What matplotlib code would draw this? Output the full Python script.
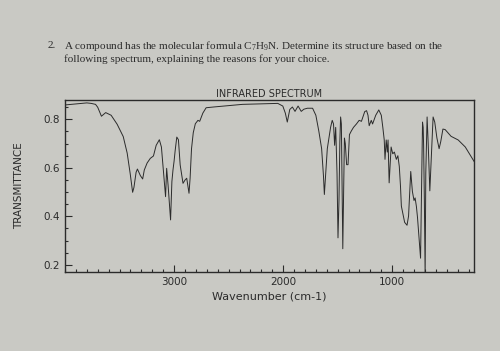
import matplotlib
matplotlib.use("Agg")
import matplotlib.pyplot as plt
from matplotlib.ticker import MultipleLocator

# IR spectrum (wavenumber in cm-1, transmittance)
wavenumber = [
    3990, 3940, 3880, 3800, 3760, 3720, 3700, 3666, 3627, 3577,
    3522, 3466, 3430, 3402, 3380, 3368, 3348, 3336, 3309, 3288,
    3273, 3247, 3218, 3189, 3164, 3135, 3116, 3095, 3078, 3068,
    3055, 3032, 3020, 3010, 3000, 2990, 2975, 2960, 2944, 2918,
    2899, 2884, 2863, 2853, 2840, 2824, 2805, 2781, 2765, 2736,
    2706, 2641, 2500, 2373, 2200, 2049, 2003, 1980, 1962, 1939,
    1915, 1891, 1863, 1834, 1810, 1778, 1730, 1700, 1673, 1647,
    1630, 1622, 1595, 1565, 1550, 1538, 1528, 1518, 1506, 1497,
    1488, 1480, 1473, 1466, 1460, 1453, 1446, 1438, 1430, 1418,
    1405, 1392, 1375, 1355, 1328, 1303, 1282, 1252, 1235, 1222,
    1211, 1192, 1180, 1151, 1123, 1100, 1086, 1073, 1066, 1055,
    1045, 1038, 1028, 1010, 995, 980, 962, 948, 935, 924,
    916, 901, 886, 864, 850, 830, 815, 800, 790, 778,
    768, 755, 740, 722, 716, 712, 705, 698, 692, 680,
    670, 655, 625, 610, 590, 570, 555, 535, 515, 460,
    395, 330, 270, 250,
]
transmittance = [
    0.860, 0.862, 0.864, 0.868, 0.866, 0.862, 0.850, 0.813, 0.828, 0.817,
    0.780, 0.729, 0.661, 0.575, 0.499, 0.519, 0.582, 0.595, 0.568, 0.554,
    0.591, 0.620, 0.639, 0.649, 0.693, 0.716, 0.686, 0.570, 0.481, 0.598,
    0.529, 0.385, 0.543, 0.591, 0.627, 0.671, 0.727, 0.716, 0.612, 0.536,
    0.550, 0.557, 0.495, 0.557, 0.679, 0.745, 0.782, 0.796, 0.792, 0.826,
    0.848, 0.851, 0.857, 0.862, 0.864, 0.866, 0.855, 0.826, 0.789, 0.841,
    0.851, 0.833, 0.855, 0.833, 0.842, 0.846, 0.846, 0.817, 0.752, 0.679,
    0.565, 0.490, 0.679, 0.767, 0.796, 0.781, 0.693, 0.767, 0.578, 0.311,
    0.465, 0.708, 0.810, 0.781, 0.538, 0.266, 0.476, 0.723, 0.700, 0.613,
    0.613, 0.737, 0.752, 0.767, 0.781, 0.796, 0.792, 0.832, 0.836, 0.817,
    0.774, 0.796, 0.781, 0.817, 0.839, 0.817, 0.767, 0.715, 0.635, 0.715,
    0.665, 0.715, 0.538, 0.686, 0.658, 0.665, 0.635, 0.650, 0.606, 0.524,
    0.442, 0.408, 0.375, 0.363, 0.401, 0.585, 0.503, 0.465, 0.476, 0.440,
    0.395, 0.318, 0.227, 0.789, 0.767, 0.693, 0.465, 0.150, 0.578, 0.810,
    0.700, 0.505, 0.810, 0.789, 0.723, 0.679, 0.708, 0.760, 0.758, 0.730,
    0.715, 0.686, 0.642, 0.627,
]

x_ticks = [3000, 2000, 1000]
y_ticks = [0.2, 0.4, 0.6, 0.8]

paper = "#c9c9c4"
ink = "#2b2b2b"

fig = plt.figure(figsize=(5.0, 3.51), dpi=100, facecolor=paper)

# question text printed above the chart
serif = "Liberation Serif"
plt.rcParams["mathtext.fontset"] = "custom"
plt.rcParams["mathtext.rm"] = serif
plt.rcParams["mathtext.it"] = serif + ":italic"
fig.text(48 / 500, 1 - 46 / 351, "2.", fontsize=8, family=serif, color=ink, va="center")
fig.text(64 / 500, 1 - 46 / 351,
         r"A compound has the molecular formula C$_7$H$_9$N. Determine its structure based on the",
         fontsize=8, family=serif, color=ink, va="center")
fig.text(64 / 500, 1 - 59 / 351,
         "following spectrum, explaining the reasons for your choice.",
         fontsize=8, family=serif, color=ink, va="center")

ax = fig.add_axes([65 / 500, 1 - 272 / 351, 409 / 500, 172 / 351])
ax.set_facecolor(paper)
ax.plot(wavenumber, transmittance, color=ink, lw=0.7)

ax.set_xlim(4000, 250)
ax.set_ylim(0.17, 0.88)
ax.set_xticks(x_ticks)
ax.set_yticks(y_ticks)
ax.set_yticklabels(["0.2", "0.4", "0.6", "0.8"])
ax.xaxis.set_minor_locator(MultipleLocator(100))
ax.yaxis.set_minor_locator(MultipleLocator(0.05))
ax.tick_params(which="both", direction="in", colors=ink, labelsize=7.5, width=0.8)
ax.tick_params(which="major", length=5)
ax.tick_params(which="minor", length=2.5)
for s in ax.spines.values():
    s.set_color(ink)
    s.set_linewidth(1.0)

ax.set_title("INFRARED SPECTRUM", fontsize=7, color=ink, pad=2)
ax.set_xlabel("Wavenumber (cm-1)", fontsize=8, color=ink, labelpad=3)
ax.set_ylabel("TRANSMITTANCE", fontsize=7.5, color=ink, labelpad=14)

fig.savefig("out.png", dpi=100, facecolor=paper)
